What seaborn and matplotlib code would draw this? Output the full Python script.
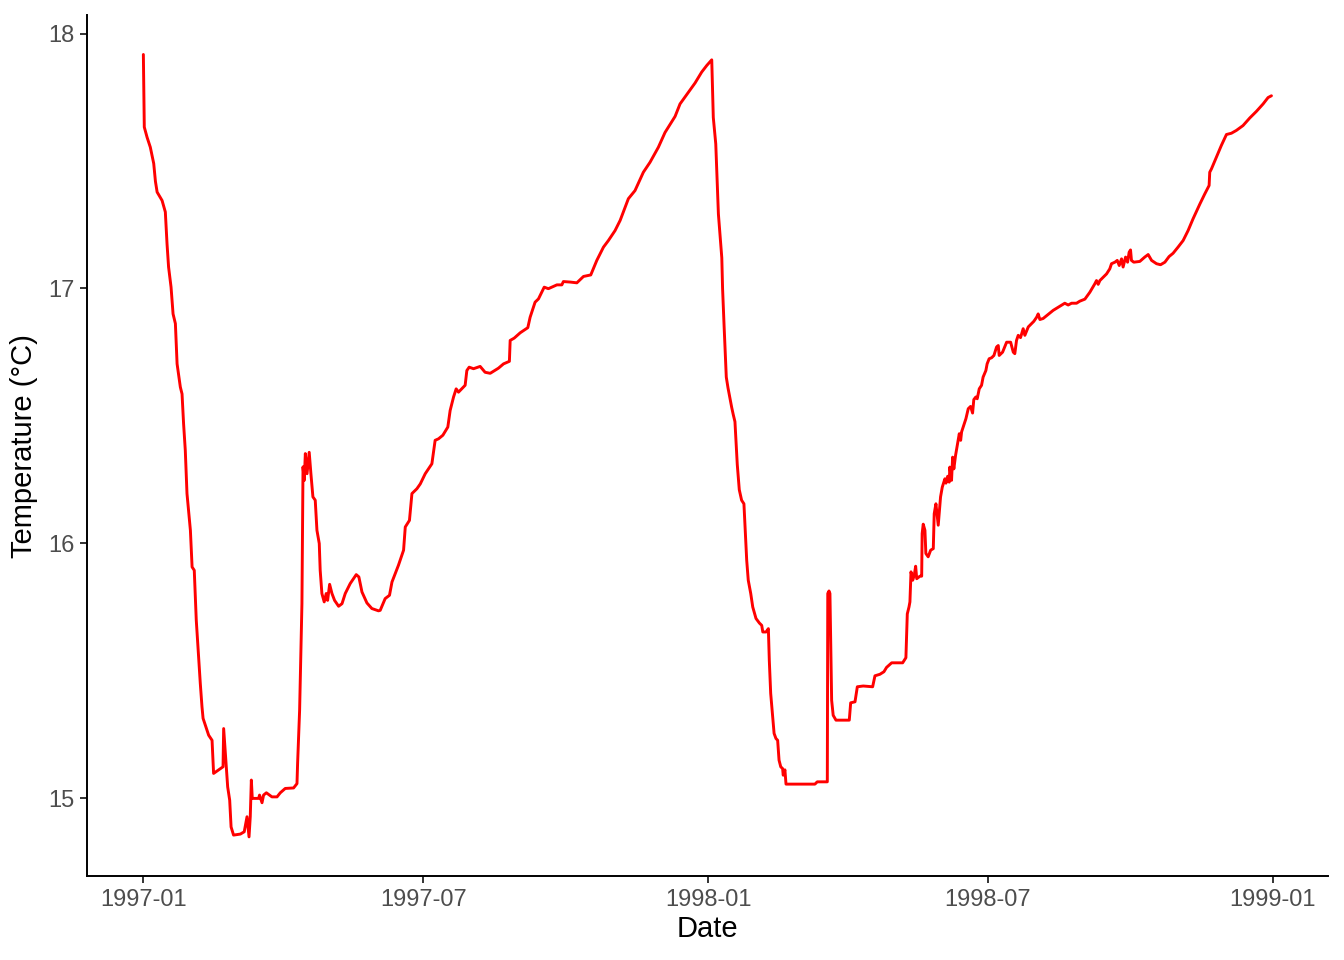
import pandas as pd
import matplotlib
matplotlib.use("Agg")
import matplotlib.pyplot as plt
import matplotlib.dates as mdates
import seaborn as sns

# days since 1997-01-01 and water temperature (°C)
days = [
    0, 0.6, 2.4, 4.5, 6.7, 7.8, 8.9, 12.1, 14.2, 15.3, 16.3, 17.9, 19.2, 20.7,
    21.8, 23.9, 25.0, 26.0, 27.1, 28.2, 30.4, 31.5, 32.9, 34.2, 35.7, 36.8,
    37.9, 38.6, 40.1, 42.2, 44.4, 45.4, 51.5, 51.9, 53.6, 54.5, 55.8, 56.7,
    58.3, 62.7, 65.2, 67.0, 68.3, 69.1, 69.8, 70.4, 74.5, 75.1, 76.7, 77.7,
    79.5, 83.1, 86.4, 88.5, 91.7, 97.1, 99.3, 99.7, 101.0, 102.5, 103.2, 104.0,
    104.7, 105.8, 107.2, 108.3, 109.6, 111.1, 112.2, 113.7, 114.3, 115.4, 116.9,
    118.2, 119.1, 120.4, 121.9, 123.6, 126.2, 128.4, 130.5, 133.7, 137.6,
    139.3, 141.3, 144.5, 147.7, 152.0, 153.1, 156.3, 159.1, 160.7, 164.9,
    168.2, 169.3, 172.0, 173.6, 174.6, 176.8, 179.0, 182.2, 185.0, 186.5,
    188.6, 190.8, 193.6, 196.8, 198.3, 200.5, 202.2, 203.7, 208.0, 209.1,
    210.6, 213.4, 217.7, 220.9, 224.2, 229.5, 232.8, 236.6, 237.1, 239.7,
    243.6, 248.5, 250.0, 253.2, 255.4, 259.1, 261.8, 267.3, 270.5, 271.5,
    275.9, 280.2, 284.5, 289.2, 293.1, 297.4, 300.6, 304.9, 308.2, 313.5,
    317.8, 323.2, 327.5, 332.9, 337.2, 343.7, 346.9, 352.3, 356.6, 360.9,
    364.2, 367.4, 368.4, 370.0, 371.7, 373.9, 374.4, 375.4, 376.8, 377.9,
    379.2, 380.3, 381.3, 382.4, 383.9, 385.2, 386.7, 388.2, 390.0, 391.0,
    392.6, 393.9, 396.0, 398.2, 399.7, 400.4, 402.5, 404.0, 404.6, 405.5,
    406.8, 407.7, 408.9, 410.0, 410.9, 412.0, 413.2, 413.6, 414.7, 415.4,
    434.1, 435.6, 442.1, 442.4, 443.2, 443.8, 444.9, 445.9, 447.7, 456.3,
    457.2, 460.0, 461.5, 464.3, 465.3, 471.4, 472.9, 476.1, 478.7, 480.4,
    483.7, 490.8, 492.9, 493.8, 494.9, 495.5, 496.2, 497.3, 498.3, 499.2,
    499.9, 502.0, 503.1, 503.4, 504.1, 505.2, 505.8, 507.3, 508.9, 510.6,
    511.2, 512.3, 513.8, 515.3, 516.4, 518.1, 518.8, 519.9, 520.9, 521.3,
    522.4, 523.1, 523.9, 525.0, 526.3, 527.4, 528.3, 528.9, 529.9, 531.7,
    533.2, 534.7, 536.0, 536.8, 538.1, 539.0, 540.3, 541.8, 542.8, 544.6,
    545.4, 546.7, 548.3, 549.8, 551.5, 552.6, 553.2, 555.4, 558.0, 560.6,
    562.3, 563.3, 564.4, 565.5, 567.0, 568.7, 569.8, 572.0, 574.1, 575.6,
    577.4, 578.4, 579.5, 581.6, 588.1, 595.6, 597.8, 600.0, 603.2, 605.3,
    608.6, 611.8, 615.0, 616.1, 617.2, 618.3, 620.4, 622.6, 624.7, 625.8,
    628.0, 629.5, 630.8, 632.3, 633.3, 634.9, 636.2, 637.2, 638.1, 638.7,
    640.2, 644.1, 647.3, 649.5, 651.7, 654.9, 657.5, 660.3, 663.0, 665.6,
    668.8, 672.1, 675.3, 678.5, 682.9, 686.1, 688.9, 689.3, 690.4, 693.6,
    696.8, 700.1, 703.3, 706.5, 710.8, 715.2, 719.5, 723.8, 727.0, 729.2,
]
temps = [
    17.918, 17.633, 17.593, 17.554, 17.49, 17.42, 17.378, 17.345, 17.30, 17.175,
    17.084, 17.005, 16.90, 16.862, 16.704, 16.613, 16.586, 16.469, 16.365,
    16.195, 16.051, 15.907, 15.894, 15.698, 15.554, 15.45, 15.358, 15.313,
    15.286, 15.247, 15.227, 15.097, 15.123, 15.273, 15.12, 15.044, 14.992,
    14.887, 14.855, 14.859, 14.868, 14.927, 14.848, 14.927, 15.071, 14.999,
    14.999, 15.012, 14.982, 15.012, 15.021, 15.005, 15.005, 15.021, 15.038,
    15.04, 15.057, 15.136, 15.345, 15.763, 16.30, 16.247, 16.352, 16.273,
    16.357, 16.273, 16.182, 16.169, 16.051, 15.999, 15.894, 15.803, 15.77,
    15.803, 15.776, 15.839, 15.803, 15.776, 15.753, 15.763, 15.803, 15.842,
    15.877, 15.868, 15.809, 15.766, 15.744, 15.735, 15.737, 15.783, 15.796,
    15.848, 15.914, 15.973, 16.064, 16.09, 16.195, 16.201, 16.214, 16.233,
    16.273, 16.298, 16.312, 16.404, 16.41, 16.424, 16.456, 16.521, 16.574,
    16.606, 16.593, 16.62, 16.678, 16.691, 16.685, 16.694, 16.671, 16.667,
    16.687, 16.704, 16.714, 16.796, 16.805, 16.826, 16.846, 16.887, 16.946,
    16.959, 17.005, 16.999, 17.014, 17.014, 17.027, 17.025, 17.022, 17.047,
    17.053, 17.11, 17.162, 17.188, 17.227, 17.267, 17.352, 17.384, 17.456,
    17.495, 17.554, 17.612, 17.675, 17.724, 17.77, 17.806, 17.849, 17.875,
    17.897, 17.671, 17.567, 17.292, 17.12, 17.0, 16.85, 16.652, 16.61,
    16.568, 16.533, 16.505, 16.477, 16.309, 16.21, 16.169, 16.155, 15.933,
    15.855, 15.803, 15.75, 15.705, 15.687, 15.678, 15.652, 15.652, 15.665,
    15.541, 15.411, 15.319, 15.254, 15.234, 15.227, 15.149, 15.123, 15.116,
    15.09, 15.111, 15.055, 15.055, 15.064, 15.064, 15.803, 15.813, 15.803,
    15.384, 15.325, 15.306, 15.306, 15.374, 15.378, 15.437, 15.439, 15.44,
    15.437, 15.48, 15.486, 15.496, 15.513, 15.531, 15.531, 15.551, 15.723,
    15.75, 15.77, 15.888, 15.855, 15.875, 15.91, 15.861, 15.871, 15.871,
    16.038, 16.075, 16.051, 15.96, 15.947, 15.973, 15.979, 16.116, 16.155,
    16.071, 16.182, 16.22, 16.253, 16.236, 16.263, 16.24, 16.299, 16.247,
    16.338, 16.292, 16.345, 16.391, 16.43, 16.404, 16.437, 16.456, 16.489,
    16.528, 16.537, 16.511, 16.564, 16.574, 16.567, 16.606, 16.62, 16.652,
    16.678, 16.704, 16.724, 16.728, 16.737, 16.77, 16.776, 16.737, 16.75,
    16.789, 16.789, 16.75, 16.744, 16.796, 16.816, 16.807, 16.842, 16.816,
    16.849, 16.862, 16.871, 16.887, 16.90, 16.878, 16.882, 16.914, 16.942,
    16.935, 16.942, 16.942, 16.95, 16.958, 16.985, 17.018, 17.031, 17.016,
    17.031, 17.044, 17.057, 17.077, 17.097, 17.103, 17.11, 17.09, 17.116,
    17.084, 17.123, 17.103, 17.142, 17.151, 17.11, 17.103, 17.106, 17.123,
    17.133, 17.11, 17.097, 17.093, 17.103, 17.125, 17.138, 17.162, 17.188,
    17.227, 17.273, 17.331, 17.371, 17.404, 17.456, 17.469, 17.515, 17.561,
    17.604, 17.609, 17.62, 17.639, 17.669, 17.695, 17.724, 17.749, 17.756,
]
tick_dates = ["1997-01-01", "1997-07-01", "1998-01-01", "1998-07-01", "1999-01-01"]
y_ticks = [15, 16, 17, 18]

start = pd.Timestamp("1997-01-01")
df = pd.DataFrame({
    "date": start + pd.to_timedelta(days, unit="D"),
    "temp": temps,
})

sns.set_theme(style="ticks")
plt.rcParams["font.family"] = ["Liberation Sans", "DejaVu Sans"]

fig = plt.figure(figsize=(13.44, 9.6), dpi=100)
ax = fig.add_axes([0.0647, 0.0875, 0.9233, 0.8965])

sns.lineplot(data=df, x="date", y="temp", color="red", linewidth=2.1,
             estimator=None, sort=False, ax=ax)

# ggplot-style 5% padding
span = df["date"].max() - df["date"].min()
ax.set_xlim(df["date"].min() - span * 0.05, df["date"].max() + span * 0.05)
yr = df["temp"].max() - df["temp"].min()
ax.set_ylim(df["temp"].min() - yr * 0.05, df["temp"].max() + yr * 0.05)

ax.set_xticks(pd.to_datetime(tick_dates))
ax.xaxis.set_major_formatter(mdates.DateFormatter("%Y-%m"))
ax.set_yticks(y_ticks)

for side in ["top", "right"]:
    ax.spines[side].set_visible(False)
for side in ["left", "bottom"]:
    ax.spines[side].set_color("black")
    ax.spines[side].set_linewidth(1.4)
ax.tick_params(axis="both", length=5, width=1.4, color="#333333",
               labelsize=17, labelcolor="#4D4D4D", pad=4)

ax.set_xlabel("Date", fontsize=21, color="black", labelpad=3)
ax.set_ylabel("Temperature (°C)", fontsize=21, color="black", labelpad=7)

fig.savefig("out.png", dpi=100, facecolor="white")
